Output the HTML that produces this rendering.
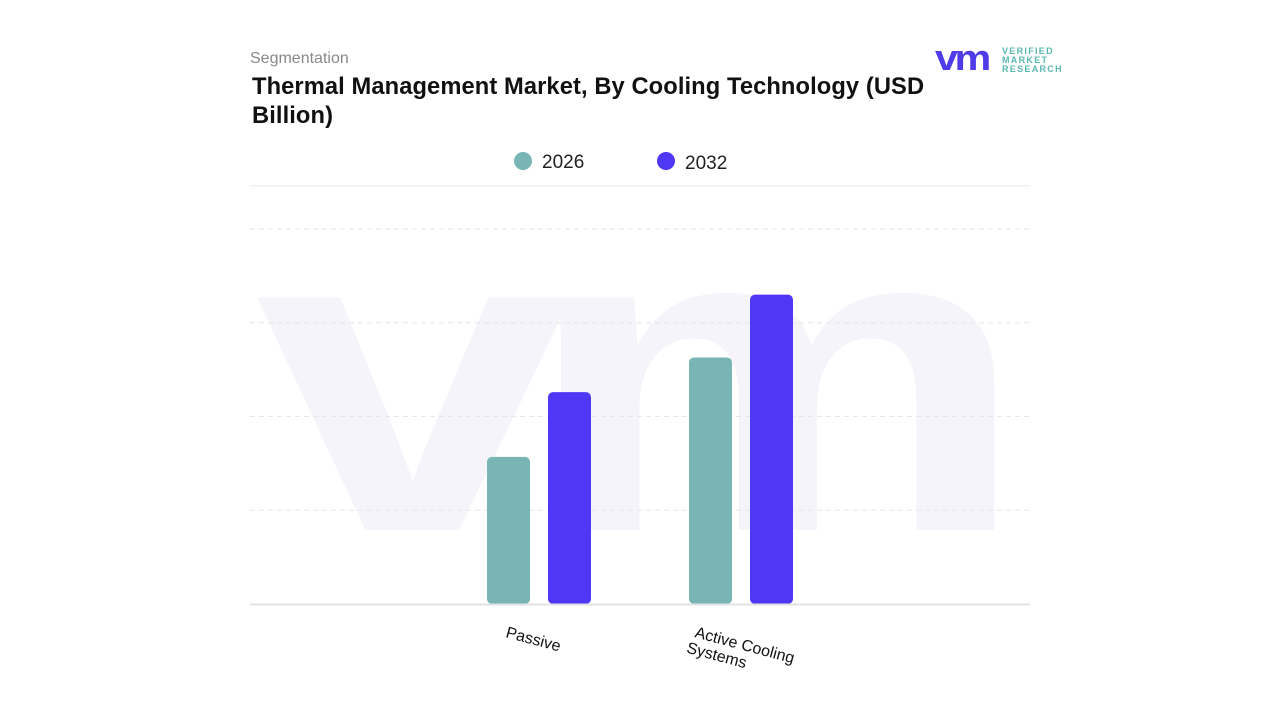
<!DOCTYPE html>
<html><head><meta charset="utf-8"><style>
body{margin:0;width:1280px;height:720px;background:#fff;font-family:"Liberation Sans",sans-serif;overflow:hidden;position:relative}
.seg{position:absolute;left:250px;top:50px;font-size:16px;color:#888}
.title{position:absolute;left:252px;top:73px;font-size:23.7px;font-weight:bold;color:#111;line-height:29px;width:720px;letter-spacing:0.1px}
</style></head><body>
<div class="seg">Segmentation</div>
<div class="title">Thermal Management Market, By Cooling Technology (USD Billion)</div>
<svg width="1280" height="720" style="position:absolute;left:0;top:0">
<g>
<text x="935" y="70" font-size="36" font-weight="bold" fill="#4f3be8" font-family="Liberation Sans,sans-serif" letter-spacing="-3" transform="translate(935,0) scale(1.15,1) translate(-935,0)">vm</text>
<text x="1002" y="54" font-size="9" fill="#5bb8b0" font-weight="bold" letter-spacing="1.3">VERIFIED</text>
<text x="1002" y="63" font-size="9" fill="#5bb8b0" font-weight="bold" letter-spacing="1.3">MARKET</text>
<text x="1002" y="72" font-size="9" fill="#5bb8b0" font-weight="bold" letter-spacing="1.3">RESEARCH</text>
</g>
<text x="0" y="0" font-size="440" font-weight="bold" fill="#f4f4fa" font-family="Liberation Sans,sans-serif" letter-spacing="-40" transform="translate(255,530) scale(1.3,1)">vm</text>
<g>
<circle cx="523" cy="161" r="9" fill="#7ab5b6"/>
<text x="542" y="168" font-size="19" fill="#222">2026</text>
<circle cx="666" cy="161" r="9" fill="#4f38f5"/>
<text x="685" y="169" font-size="19" fill="#222">2032</text>
</g>
<line x1="250" y1="186" x2="1030" y2="186" stroke="#e8e8e8"/>
<g id="grid"></g><g id="bars"></g><g id="labels"></g>
<line x1="250" y1="604.5" x2="1030" y2="604.5" stroke="#e2e2e2" stroke-width="2"/>
</svg>
<script>
const categories=["Passive","Active Cooling Systems"];
const values2026=[1.57,2.63];
const values2032=[2.26,3.3];
const gridValues=[1,2,3,4];
const NS="http://www.w3.org/2000/svg";
const base=604,unit=93.75;
const y=v=>base-v*unit;
const centers=[539,741];
const grid=document.getElementById('grid');
gridValues.forEach(g=>{
 const l=document.createElementNS(NS,'line');
 l.setAttribute('x1',250);l.setAttribute('x2',1030);l.setAttribute('y1',y(g));l.setAttribute('y2',y(g));
 l.setAttribute('stroke','#e6e6e6');l.setAttribute('stroke-dasharray','5,4');
 
 
 grid.appendChild(l);
});
const bars=document.getElementById('bars');
function bar(x,v,c,n){
 const top=y(v),w=43,h=base-top;
 const p=document.createElementNS(NS,'rect');
 p.setAttribute('x',x);p.setAttribute('y',top);p.setAttribute('width',w);p.setAttribute('height',h);
 p.setAttribute('rx',5);p.setAttribute('fill',c);
 
 
 bars.appendChild(p);
}
categories.forEach((c,i)=>{
 bar(centers[i]-52,values2026[i],'#7ab5b6','bar-2026-'+i);
 bar(centers[i]+9,values2032[i],'#4f38f5','bar-2032-'+i);
});
const labels=document.getElementById('labels');
const lab=[["Passive"],["Active Cooling","Systems"]];
const lx=[505,694],ly=[637,637];
lab.forEach((lines,i)=>{
 const t=document.createElementNS(NS,'text');
 t.setAttribute('transform',`translate(${lx[i]},${ly[i]}) rotate(15)`);
 t.setAttribute('font-size','16');t.setAttribute('fill','#111');
 
 
 lines.forEach((s,k)=>{const ts=document.createElementNS(NS,'tspan');ts.setAttribute('x',k?-4:0);ts.setAttribute('dy',k?17:0);ts.textContent=s;t.appendChild(ts);});
 labels.appendChild(t);
});
</script>
</body></html>
